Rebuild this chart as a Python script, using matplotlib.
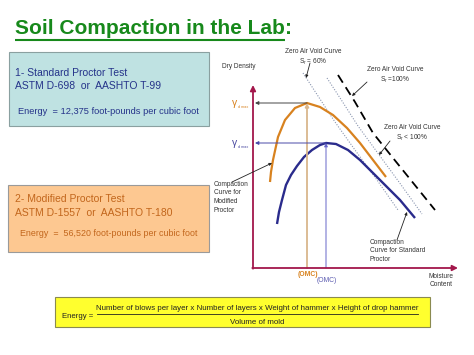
import matplotlib
matplotlib.use("Agg")
import matplotlib.pyplot as plt
from matplotlib.patches import Rectangle

plt.rcParams['font.family'] = ['Liberation Sans', 'DejaVu Sans']
plt.rcParams['mathtext.fontset'] = 'custom'
plt.rcParams['mathtext.rm'] = 'Liberation Sans'
plt.rcParams['mathtext.it'] = 'Liberation Sans:italic'

# ---------------- data (moisture content, dry density; arbitrary units) -------------
modified_w = [1.7, 1.8, 2.0, 2.5, 3.2, 4.2, 5.4, 6.7, 8.0, 9.4, 10.7, 12.0, 13.3]
modified_d = [8.6, 9.6, 10.8, 13.1, 14.8, 16.0, 16.5, 16.1, 15.3, 14.0, 12.5, 10.8, 9.1]

standard_w = [2.4, 2.6, 2.9, 3.3, 3.8, 4.4, 5.1, 5.9, 6.7, 7.3, 8.3, 9.5, 10.7, 11.9, 13.1, 14.7, 16.2]
standard_d = [4.4, 5.6, 6.8, 8.3, 9.3, 10.2, 11.1, 11.8, 12.3, 12.5, 12.4, 11.8, 10.8, 9.6, 8.4, 6.8, 5.0]

zav60_w = [5.0, 6.5, 8.2, 10.2, 12.4, 14.5]
zav60_d = [19.5, 17.2, 14.6, 11.8, 8.8, 5.8]

zavlt100_w = [7.4, 8.9, 10.5, 12.4, 14.6, 16.9]
zavlt100_d = [19.0, 16.7, 14.2, 11.6, 8.6, 5.4]

zav100_w = [8.5, 10.2, 12.0, 14.0, 16.1, 18.2]
zav100_d = [19.3, 16.6, 13.5, 11.0, 8.4, 5.8]

axis_x_max = 20.5
axis_y_max = 18.3

title = "Soil Compaction in the Lab"
box1_lines = ["1- Standard Proctor Test", "ASTM D-698  or  AASHTO T-99",
              "Energy  = 12,375 foot-pounds per cubic foot"]
box2_lines = ["2- Modified Proctor Test", "ASTM D-1557  or  AASHTO T-180",
              "Energy  =  56,520 foot-pounds per cubic foot"]
formula_num = "Number of blows per layer x Number of layers x Weight of hammer x Height of drop hammer"
formula_den = "Volume of mold"

# ---------------- figure ----------------
W, H = 474, 355
fig = plt.figure(figsize=(W / 100, H / 100), dpi=100)
fig.patch.set_facecolor('white')

bg = fig.add_axes([0, 0, 1, 1])
bg.set_xlim(0, W)
bg.set_ylim(H, 0)
bg.axis('off')

# title
green = '#17891b'
t = bg.text(15, 34.5, title, color=green, fontsize=15, fontweight='bold', va='baseline', ha='left')
fig.canvas.draw()
bb = t.get_window_extent(fig.canvas.get_renderer())
bg.text(bb.x1, 34.5, ":", color=green, fontsize=15, fontweight='bold', va='baseline', ha='left')
bg.plot([bb.x0, bb.x1], [H - bb.y0 + 1.2, H - bb.y0 + 1.2], color=green, lw=1.5,
        solid_capstyle='butt')

# box 1
bg.add_patch(Rectangle((9, 52), 200, 74, facecolor='#bfe2e2', edgecolor='#8aa0a0', lw=0.8))
c1 = '#25338a'
bg.text(15, 73, box1_lines[0], color=c1, fontsize=7.5, va='center', ha='left')
bg.text(15, 86, box1_lines[1], color=c1, fontsize=7.5, va='center', ha='left')
bg.text(18, 112, box1_lines[2], color=c1, fontsize=6.7, va='center', ha='left')

# box 2
bg.add_patch(Rectangle((8, 185), 201, 67, facecolor='#fdc891', edgecolor='#9a9a9a', lw=0.8))
c2 = '#c2661c'
bg.text(15, 199, box2_lines[0], color=c2, fontsize=7.5, va='center', ha='left')
bg.text(15, 213, box2_lines[1], color=c2, fontsize=7.5, va='center', ha='left')
bg.text(20, 233, box2_lines[2], color=c2, fontsize=6.4, va='center', ha='left')

# formula box
bg.add_patch(Rectangle((55, 297), 375, 30, facecolor='#ffff2e', edgecolor='#8a8a50', lw=0.8))
bg.text(62, 316, "Energy =", color='#222222', fontsize=5.6, va='center', ha='left')
bg.text(257, 309, formula_num, color='#222222', fontsize=5.7, va='center', ha='center')
bg.plot([97, 418], [314, 314], color='#222222', lw=0.6)
bg.text(257, 323, formula_den, color='#222222', fontsize=5.7, va='center', ha='center')

# ---------------- chart axes ----------------
ax = fig.add_axes([200 / W, (H - 290) / H, 274 / W, 250 / H])
ax.set_xlim(-5.3, 22.1)
ax.set_ylim(-2.2, 22.8)
ax.axis('off')
ax.patch.set_alpha(0)

orange = '#d8821f'
navy = '#2a2b8c'
txt = '#333333'

# zero air void curves
ax.plot(zav60_w, zav60_d, color='#8a96b0', lw=0.8, ls=(0, (1, 1.4)))
ax.plot(zavlt100_w, zavlt100_d, color='#8a96b0', lw=0.8, ls=(0, (1, 1.4)))
ax.plot(zav100_w, zav100_d, color='black', lw=1.3, ls=(0, (5, 3)))

# compaction curves
ax.plot(modified_w, modified_d, color=orange, lw=1.6, solid_capstyle='butt')
ax.plot(standard_w, standard_d, color=navy, lw=1.7, solid_capstyle='butt')

# peaks
im = modified_d.index(max(modified_d))
isd = standard_d.index(max(standard_d))
mw, md = modified_w[im], modified_d[im]
sw, sd = standard_w[isd], standard_d[isd]

# OMC verticals
ax.annotate('', xy=(mw, md), xytext=(mw, 0),
            arrowprops=dict(arrowstyle='-|>', color='#d9b68c', lw=1.3, mutation_scale=5,
                            shrinkA=0, shrinkB=0))
ax.annotate('', xy=(sw, sd), xytext=(sw, 0),
            arrowprops=dict(arrowstyle='-|>', color='#6565c8', lw=0.7, mutation_scale=5,
                            shrinkA=0, shrinkB=0))
# gamma horizontals
ax.annotate('', xy=(0.2, md), xytext=(mw, md),
            arrowprops=dict(arrowstyle='-|>', color='#444444', lw=0.7, mutation_scale=5,
                            shrinkA=0, shrinkB=0))
ax.annotate('', xy=(0.2, sd), xytext=(sw, sd),
            arrowprops=dict(arrowstyle='-|>', color='#4848a8', lw=0.7, mutation_scale=5,
                            shrinkA=0, shrinkB=0))

# axes arrows
axc = '#a3174b'
ax.annotate('', xy=(axis_x_max, 0), xytext=(-0.07, 0),
            arrowprops=dict(arrowstyle='-|>', color=axc, lw=1.3, mutation_scale=8,
                            shrinkA=0, shrinkB=0))
ax.annotate('', xy=(0, axis_y_max), xytext=(0, -0.07),
            arrowprops=dict(arrowstyle='-|>', color=axc, lw=1.3, mutation_scale=8,
                            shrinkA=0, shrinkB=0))

# gamma labels
ax.text(-2.1, md, "γ", color=orange, fontsize=7.5, va='center', ha='left')
ax.text(-1.5, md - 0.35, "d max", color=orange, fontsize=2.7, va='center', ha='left')
ax.text(-2.1, sd, "γ", color='#4a4aa0', fontsize=7.5, va='center', ha='left')
ax.text(-1.5, sd - 0.35, "d max", color='#4a4aa0', fontsize=2.7, va='center', ha='left')

fs = 4.7
ax.text(-3.1, 20.1, "Dry Density", color=txt, fontsize=fs, va='center', ha='left')
ax.text(mw + 0.1, -0.6, "(OMC)", color=orange, fontsize=fs + 0.2, fontweight='bold',
        va='center', ha='center')
ax.text(sw + 0.1, -1.3, "(OMC)", color='#5a5ab0', fontsize=fs + 0.2, va='center', ha='center')
ax.text(18.8, -1.3, "Moisture\nContent", color=txt, fontsize=fs, va='center', ha='center',
        linespacing=1.2)

ax.text(-3.9, 8.7, "Compaction\nCurve for\nModified\nProctor", color=txt, fontsize=fs,
        va='top', ha='left', linespacing=1.3)
ax.text(11.7, 2.9, "Compaction\nCurve for Standard\nProctor", color=txt, fontsize=fs,
        va='top', ha='left', linespacing=1.3)
ax.text(6.0, 22.0, "Zero Air Void Curve\nS$_r$ = 60%", color=txt, fontsize=fs,
        va='top', ha='center', linespacing=1.2)
ax.text(14.2, 20.2, "Zero Air Void Curve\nS$_r$ =100%", color=txt, fontsize=fs,
        va='top', ha='center', linespacing=1.2)
ax.text(15.9, 14.4, "Zero Air Void Curve\nS$_r$ < 100%", color=txt, fontsize=fs,
        va='top', ha='center', linespacing=1.2)

ptr = dict(arrowstyle='-|>', color='#222222', lw=0.6, mutation_scale=4, shrinkA=0, shrinkB=0)
ax.annotate('', xy=(1.9, 10.5), xytext=(-2.1, 8.6), arrowprops=ptr)
ax.annotate('', xy=(15.4, 5.6), xytext=(14.4, 2.8), arrowprops=ptr)
ax.annotate('', xy=(5.3, 19.0), xytext=(5.7, 20.5), arrowprops=ptr)
ax.annotate('', xy=(9.9, 17.2), xytext=(11.4, 18.6), arrowprops=ptr)
ax.annotate('', xy=(12.6, 11.3), xytext=(13.7, 12.7), arrowprops=ptr)

fig.savefig("out.png", dpi=100)
